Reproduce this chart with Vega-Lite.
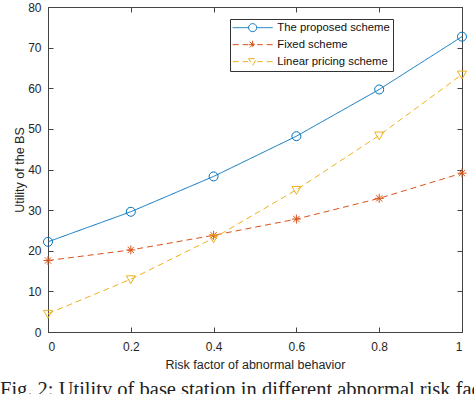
{
  "$schema": "https://vega.github.io/schema/vega-lite/v6.json",
  "width": 414,
  "height": 325,
  "autosize": "none",
  "padding": {"left": 48, "top": 7, "right": 12, "bottom": 62},
  "background": "white",
  "title": {
    "text": "Fig. 2: Utility of base station in different abnormal risk factors",
    "orient": "bottom",
    "anchor": "start",
    "frame": "group",
    "font": "Liberation Serif",
    "fontSize": 20.5,
    "fontWeight": "normal",
    "color": "#222",
    "dx": -48,
    "offset": 9
  },
  "data": {
    "values": [
      {"risk": 0, "utility": 22.2, "scheme": "The proposed scheme"},
      {"risk": 0.2, "utility": 29.6, "scheme": "The proposed scheme"},
      {"risk": 0.4, "utility": 38.3, "scheme": "The proposed scheme"},
      {"risk": 0.6, "utility": 48.2, "scheme": "The proposed scheme"},
      {"risk": 0.8, "utility": 59.7, "scheme": "The proposed scheme"},
      {"risk": 1, "utility": 72.7, "scheme": "The proposed scheme"},
      {"risk": 0, "utility": 17.6, "scheme": "Fixed scheme"},
      {"risk": 0.2, "utility": 20.2, "scheme": "Fixed scheme"},
      {"risk": 0.4, "utility": 23.8, "scheme": "Fixed scheme"},
      {"risk": 0.6, "utility": 27.8, "scheme": "Fixed scheme"},
      {"risk": 0.8, "utility": 32.9, "scheme": "Fixed scheme"},
      {"risk": 1, "utility": 39.1, "scheme": "Fixed scheme"},
      {"risk": 0, "utility": 4.5, "scheme": "Linear pricing scheme"},
      {"risk": 0.2, "utility": 13.0, "scheme": "Linear pricing scheme"},
      {"risk": 0.4, "utility": 23.1, "scheme": "Linear pricing scheme"},
      {"risk": 0.6, "utility": 35.0, "scheme": "Linear pricing scheme"},
      {"risk": 0.8, "utility": 48.4, "scheme": "Linear pricing scheme"},
      {"risk": 1, "utility": 63.4, "scheme": "Linear pricing scheme"}
    ]
  },
  "resolve": {"axis": {"x": "independent", "y": "independent"}},
  "layer": [
    {
      "mark": {"type": "line", "strokeWidth": 1},
      "encoding": {
        "x": {
          "field": "risk", "type": "quantitative",
          "scale": {"domain": [0, 1], "nice": false, "zero": false},
          "axis": {
            "title": "Risk factor of abnormal behavior",
            "values": [0, 0.2, 0.4, 0.6, 0.8, 1],
            "format": "~g",
            "tickSize": -5,
            "labelPadding": 14,
            "titlePadding": 6
          }
        },
        "y": {
          "field": "utility", "type": "quantitative",
          "scale": {"domain": [0, 80], "nice": false},
          "axis": {
            "title": "Utility of the BS",
            "values": [0, 10, 20, 30, 40, 50, 60, 70, 80],
            "tickSize": -5,
            "labelPadding": 12,
            "titlePadding": 1
          }
        },
        "color": {
          "field": "scheme", "type": "nominal",
          "scale": {
            "domain": ["The proposed scheme", "Fixed scheme", "Linear pricing scheme"],
            "range": ["#0072BD", "#D95319", "#EDB120"]
          },
          "legend": {
            "title": null,
            "orient": "none",
            "legendX": 182,
            "legendY": 12,
            "direction": "vertical",
            "fillColor": "white",
            "strokeColor": "#333",
            "padding": 3,
            "symbolSize": 100,
            "symbolOpacity": 1,
            "symbolStrokeWidth": 1,
            "symbolOffset": 14,
            "labelOffset": 19,
            "rowPadding": 4,
            "labelFont": "Liberation Sans",
            "labelFontSize": 11.3,
            "labelColor": "#111"
          }
        },
        "strokeDash": {
          "field": "scheme", "type": "nominal",
          "scale": {
            "domain": ["The proposed scheme", "Fixed scheme", "Linear pricing scheme"],
            "range": [[1, 0], [6, 4], [6, 4]]
          },
          "legend": null
        }
      }
    },
    {
      "transform": [{"filter": "datum.scheme === 'The proposed scheme'"}],
      "mark": {"type": "point", "filled": false, "strokeWidth": 1, "opacity": 1, "size": 81, "shape": "circle"},
      "encoding": {
        "x": {
          "field": "risk", "type": "quantitative",
          "axis": {"orient": "top", "labels": false, "title": null, "values": [0, 0.2, 0.4, 0.6, 0.8, 1], "tickSize": -5}
        },
        "y": {
          "field": "utility", "type": "quantitative",
          "axis": {"orient": "right", "labels": false, "title": null, "values": [0, 10, 20, 30, 40, 50, 60, 70, 80], "tickSize": -5}
        },
        "color": {"field": "scheme", "type": "nominal", "legend": null}
      }
    },
    {
      "transform": [{"filter": "datum.scheme === 'Fixed scheme'"}],
      "mark": {"type": "point", "filled": false, "strokeWidth": 1, "opacity": 1, "size": 81, "shape": "M-1,0L1,0M0,-1L0,1M-0.7,-0.7L0.7,0.7M-0.7,0.7L0.7,-0.7"},
      "encoding": {
        "x": {"field": "risk", "type": "quantitative", "axis": null},
        "y": {"field": "utility", "type": "quantitative", "axis": null},
        "color": {"field": "scheme", "type": "nominal", "legend": null}
      }
    },
    {
      "transform": [{"filter": "datum.scheme === 'Linear pricing scheme'"}],
      "mark": {"type": "point", "filled": false, "strokeWidth": 1, "opacity": 1, "size": 81, "shape": "M-1,-0.75L1,-0.75L0,1Z"},
      "encoding": {
        "x": {"field": "risk", "type": "quantitative", "axis": null},
        "y": {"field": "utility", "type": "quantitative", "axis": null},
        "color": {"field": "scheme", "type": "nominal", "legend": null}
      }
    },
    {
      "transform": [{"filter": "datum.risk > 5"}],
      "mark": {"type": "point", "filled": false, "strokeWidth": 1, "opacity": 1},
      "encoding": {
        "x": {"field": "risk", "type": "quantitative", "axis": null},
        "y": {"field": "utility", "type": "quantitative", "axis": null},
        "color": {"field": "scheme", "type": "nominal"},
        "shape": {
          "field": "scheme", "type": "nominal",
          "scale": {
            "domain": ["The proposed scheme", "Fixed scheme", "Linear pricing scheme"],
            "range": [
              "M-4,0L-0.8,0M0.8,0L4,0M0.8,0A0.8,0.8 0 1,1 -0.8,0A0.8,0.8 0 1,1 0.8,0",
              "M-4,0L-2.8,0M-2,0L-0.9,0M0.9,0L2,0M2.8,0L4,0M-0.8,0L0.8,0M0,-0.8L0,0.8M-0.57,-0.57L0.57,0.57M-0.57,0.57L0.57,-0.57",
              "M-4,0L-2.8,0M-2,0L-0.9,0M0.9,0L2,0M2.8,0L4,0M-0.8,-0.6L0.8,-0.6L0,0.8Z"
            ]
          },
          "legend": {
            "title": null,
            "orient": "none",
            "legendX": 182,
            "legendY": 12,
            "direction": "vertical",
            "fillColor": "white",
            "strokeColor": "#333",
            "padding": 3,
            "symbolSize": 100,
            "symbolOpacity": 1,
            "symbolStrokeWidth": 1,
            "symbolOffset": 14,
            "labelOffset": 19,
            "rowPadding": 4,
            "labelFont": "Liberation Sans",
            "labelFontSize": 11.3,
            "labelColor": "#111"
          }
        }
      }
    }
  ],
  "config": {
    "view": {"stroke": "#444", "strokeWidth": 1},
    "axis": {
      "grid": false,
      "domainColor": "#444",
      "tickColor": "#444",
      "labelFont": "Liberation Sans",
      "labelFontSize": 12,
      "labelColor": "#262626",
      "titleFont": "Liberation Sans",
      "titleFontSize": 12.5,
      "titleFontWeight": "normal",
      "titleColor": "#262626"
    }
  }
}
